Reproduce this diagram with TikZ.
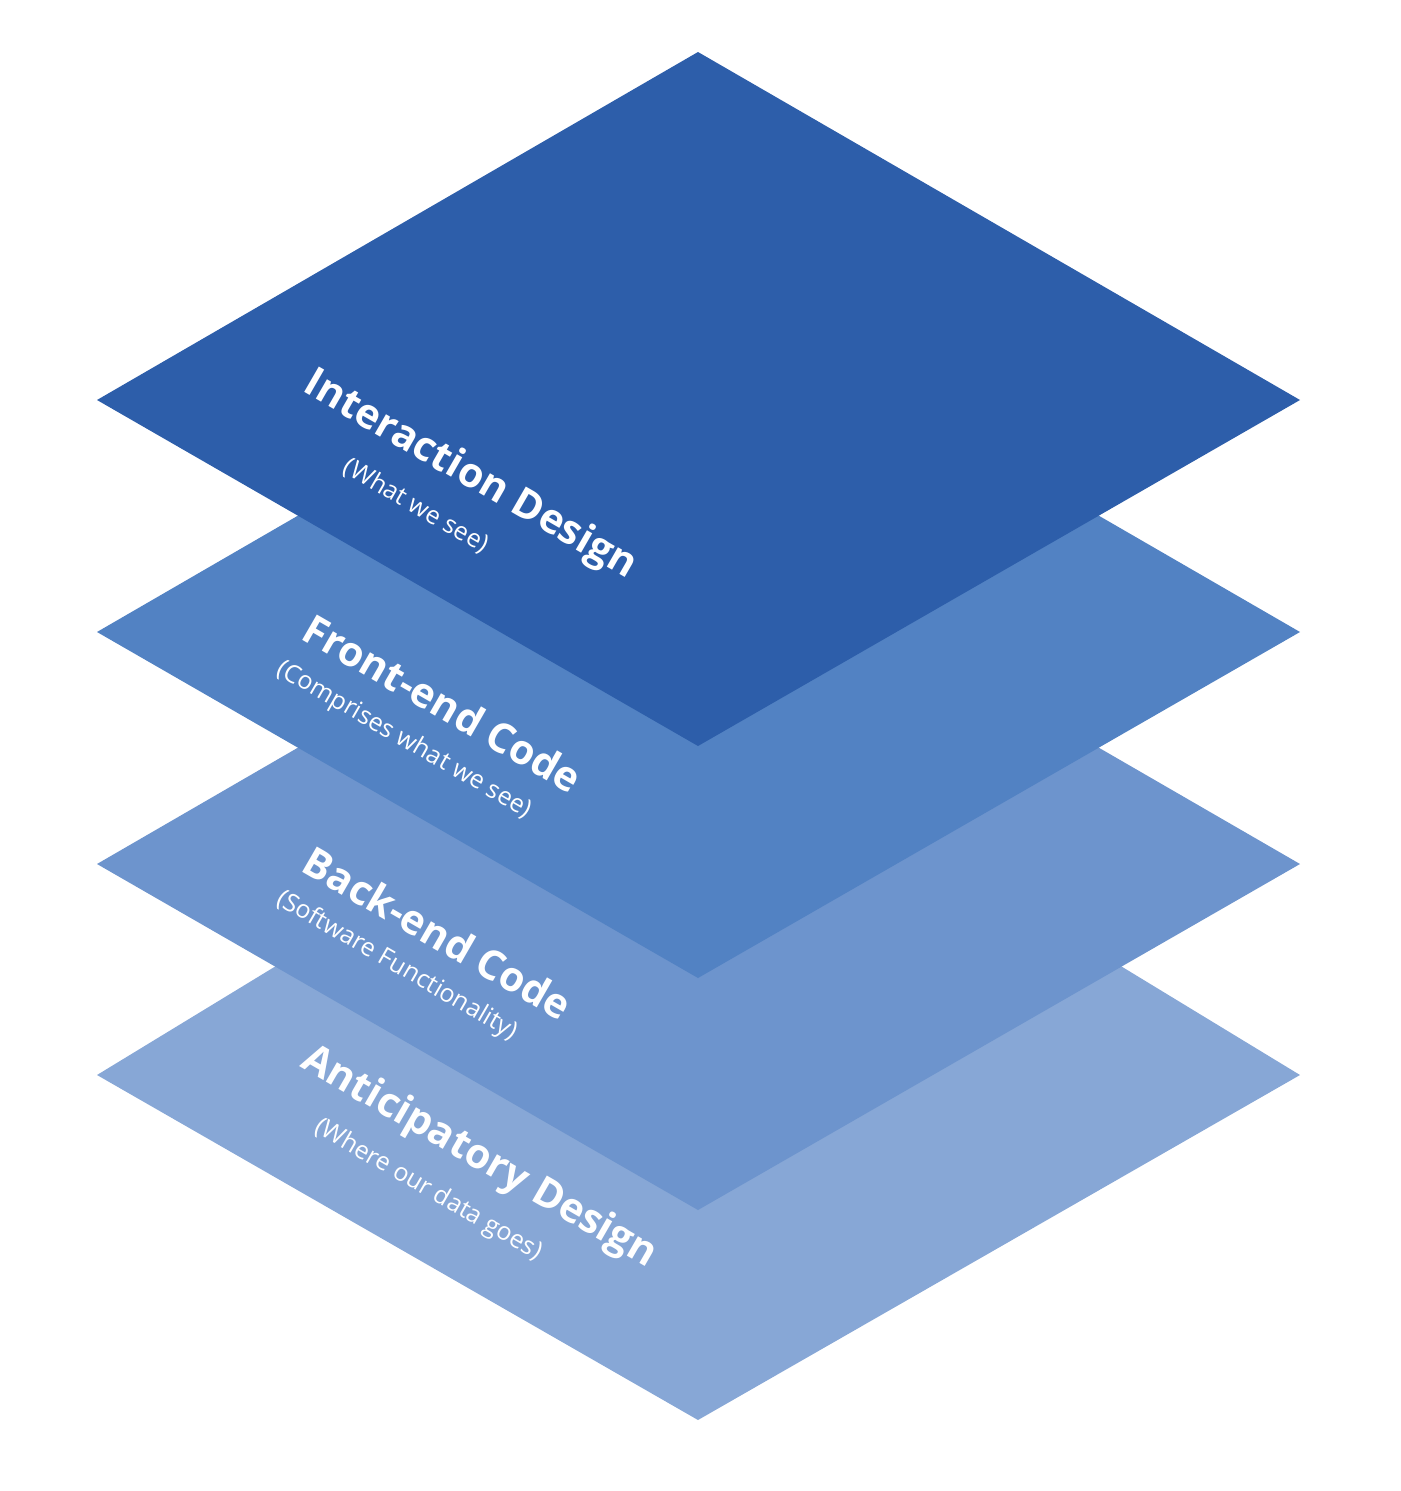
\documentclass[tikz,border=0pt]{standalone}
\usepackage{fontspec}
\setmainfont{Open Sans}
\definecolor{c1}{HTML}{2D5EAA}
\definecolor{c2}{HTML}{5282C3}
\definecolor{c3}{HTML}{6D94CD}
\definecolor{c4}{HTML}{87A7D6}
\begin{document}
\begin{tikzpicture}[x=1pt,y=-1pt,
 ttl/.style={text=white,font=\fontsize{41}{46}\selectfont\bfseries,rotate=-30,inner sep=0},
 sub/.style={text=white,font=\fontsize{25}{28}\selectfont,rotate=-30,inner sep=0}]
\useasboundingbox (0,0) rectangle (1400,1491);
\fill[c4] (698,709) -- (1300,1075) -- (698,1420) -- (97,1075) -- cycle;
\fill[c3] (698,516) -- (1300,864) -- (698,1210) -- (97,864) -- cycle;
\fill[c2] (698,284) -- (1300,632) -- (698,978) -- (97,632) -- cycle;
\fill[c1] (698,52) -- (1300,400) -- (698,746) -- (97,400) -- cycle;
\node[ttl] (t1) at (470,476) {Interaction Design};
\node[sub] (s1) at (416,506) {(What we see)};
\node[ttl] (t2) at (443,703) {Front-end Code};
\node[sub] (s2) at (404,740) {(Comprises what we see)};
\node[ttl] (t3) at (438,933) {Back-end Code};
\node[sub] (s3) at (397,966) {(Software Functionality)};
\node[ttl] (t4) at (479,1158) {Anticipatory Design};
\node[sub] (s4) at (428,1190) {(Where our data goes)};
\end{tikzpicture}
\end{document}
